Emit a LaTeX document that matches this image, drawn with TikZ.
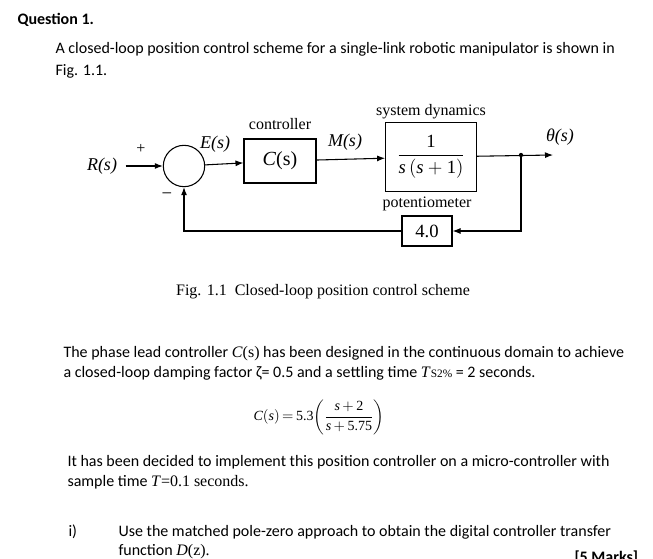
\documentclass[tikz,border=0pt]{standalone}
\usepackage{amsmath}
\usepackage{fontspec}
\setmainfont{Carlito}
\newfontfamily\tnr{Liberation Serif}
\usepackage{tikz}
\usetikzlibrary{positioning}
\usetikzlibrary{calc}
\usetikzlibrary{arrows.meta}
\tikzset{BDstyle/.style={
    x=0.75pt, y=-0.75pt,% one unit is one pixel of the page scan
    node distance=5pt,
    block/.style={% transfer function boxes
      draw,
      line width=0.8pt,
      inner sep=0pt,
      font=\tnr\fontsize{15}{17}\selectfont
    },
    sumnode/.style={draw, circle, line width=0.8pt, minimum size=31pt, inner sep=0pt},
    lbl/.style={font=\tnr\fontsize{12}{13}\selectfont, inner sep=0pt},
    sig/.style={font=\tnr\fontsize{13.5}{15}\selectfont\itshape, inner sep=0pt},
    txt/.style={anchor=base west, inner sep=0pt, font=\fontsize{12}{14}\selectfont},
    >={Latex[length=6pt,width=4.5pt]},
    line width=0.8pt
  }
}

\begin{document}
\begin{tikzpicture}[BDstyle]
  \useasboundingbox (0,0) rectangle (653,559);
  \fill[white] (0,0) rectangle (653,559);
  % question text
  \node[txt, font=\bfseries\fontsize{12}{14}\selectfont] (qhead) at (17,25) {Question 1.};
  \node[txt] (intro1) at (55,54) {A closed-loop position control scheme for a single-link robotic manipulator is shown in};
  \node[txt] (intro2) at (55,76) {Fig. 1.1.};
  % block diagram
  \node[sumnode] (sum) at (184,166) {};
  \node[block, minimum width=54pt, minimum height=33pt] (ctrl) at (280,161) {\textit{C}(s)};
  \node[block, minimum width=68pt, minimum height=52pt, font=\tnr\fontsize{14}{16}\selectfont] (plant) at (431,157)
    {$\dfrac{\text{1}}{\textit{s}\left(\textit{s}+\text{1}\right)}$};
  \node[block, minimum width=37.5pt, minimum height=22.5pt, font=\tnr\fontsize{14}{16}\selectfont] (pot) at (427,231) {4.0};
  \node[sig] (R) at (102,166) {R(s)};
  \coordinate (jn) at (521,155);
  \coordinate (out) at (553,155);
  \node[lbl, above=6pt of ctrl] (ctrllbl) {controller};
  \node[lbl, above=1.5pt of plant] (plantlbl) {system dynamics};
  \node[lbl, above=3pt of pot] (potlbl) {potentiometer};
  \node[sig] (E) at (215,144) {E(s)};
  \node[sig] (M) at (345,142) {M(s)};
  \node[sig] (th) at (560,137) {θ(s)};
  \node[lbl] (plus) at (141,149) {+};
  \node[lbl, font=\tnr\fontsize{14}{15}\selectfont] (minus) at (167,196) {−};
  \draw[->, shorten <=6pt] (R) -- (sum);
  \draw[->] (sum) -- (ctrl);
  \draw[->] (ctrl) -- (plant);
  \draw[->] (plant) -- (out);
  \fill (jn) circle (1.6pt);
  \draw[->] (jn) |- (pot);
  \draw[->] (pot) -| (sum);
  \node[font=\tnr\fontsize{12}{14}\selectfont] (caption) at (323,292) {Fig. 1.1\ \ Closed-loop position control scheme};
  % controller design
  \node[txt] (para1) at (63,358) {The phase lead controller {\tnr\textit{C}(s)} has been designed in the continuous domain to achieve};
  \node[txt] (para2) at (63,378) {a closed-loop damping factor ζ= 0.5 and a settling time {\tnr\textit{T}{\fontsize{8.5}{9}\selectfont S2\%}} = 2 seconds.};
  \node[font=\tnr\fontsize{10.5}{13}\selectfont] (eqn) at (319,417)
    {$\textit{C}(\textit{s})\,{=}\,\text{5.3}\!\left(\dfrac{\textit{s}\,{+}\,\text{2}}{\textit{s}\,{+}\,\text{5.75}}\right)$};
  \node[txt] (para3) at (67,466) {It has been decided to implement this position controller on a micro-controller with};
  \node[txt] (para4) at (67,486) {sample time {\tnr\textit{T}=0.1 seconds.}};
  \node[txt] (item) at (68,536) {i)};
  \node[txt] (task1) at (118,536) {Use the matched pole-zero approach to obtain the digital controller transfer};
  \node[txt] (task2) at (118,555) {function {\tnr\textit{D}(z).}};
  \node[txt, font=\bfseries\fontsize{12}{14}\selectfont] (marks) at (574,562) {[5 Marks]};
\end{tikzpicture}
\end{document}
